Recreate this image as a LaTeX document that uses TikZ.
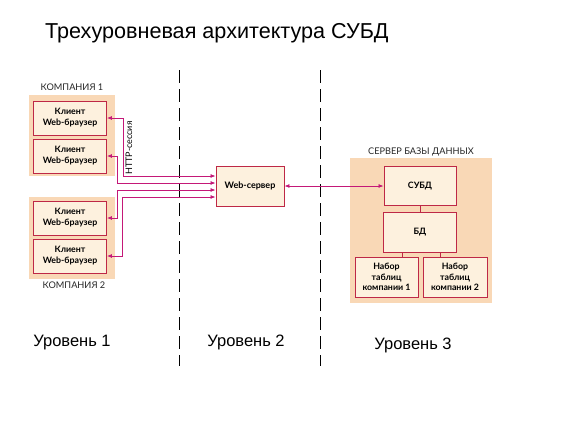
\documentclass[tikz,border=0pt]{standalone}
\usepackage{fontspec}
\setmainfont{Liberation Sans}
\newfontfamily\boxfont{Lato}
\usetikzlibrary{arrows.meta}
\definecolor{bgorange}{RGB}{249,216,182}
\definecolor{boxfill}{RGB}{253,241,222}
\definecolor{boxline}{RGB}{190,40,70}
\definecolor{conncol}{RGB}{196,24,120}
\tikzset{
  x=1pt,y=-1pt,
  bgpanel/.style={fill=bgorange,draw=none},
  cbox/.style={draw=boxline,line width=0.9pt,fill=boxfill,minimum width=73pt,minimum height=34pt,
     align=center,font=\boxfont\bfseries\fontsize{8.8}{11}\selectfont,inner sep=1pt},
  dbbox/.style={draw=boxline,line width=0.9pt,fill=boxfill,align=center,
     font=\boxfont\bfseries\fontsize{8.8}{10.5}\selectfont,inner sep=1pt},
  paneltitle/.style={font=\boxfont\fontsize{9.2}{11}\selectfont,text=black!85},
  conn/.style={draw=conncol,line width=0.8pt,{Latex[length=5pt,width=4pt]}-{Latex[length=5pt,width=4pt]}},
  link/.style={draw=boxline,line width=0.8pt},
  levelsep/.style={line width=0.9pt,dash pattern=on 13pt off 6pt},
  level/.style={font=\fontsize{16.5}{19}\selectfont}
}
\begin{document}
\begin{tikzpicture}
\useasboundingbox (0,0) rectangle (576,432);
\fill[white] (0,0) rectangle (576,432);
% title
\node[font=\fontsize{21.6}{25}\selectfont,anchor=base west,inner sep=0pt] (title) at (45,38) {Трехуровневая архитектура СУБД};
% separators
\coordinate (s1t) at (179,70); \coordinate (s1b) at (179,366);
\coordinate (s2t) at (320,70); \coordinate (s2b) at (320,366);
\draw[levelsep] (s1t) -- (s1b);
\draw[levelsep] (s2t) -- (s2b);
% company panels
\fill[bgpanel] (29,95) rectangle (115,176);
\fill[bgpanel] (29,197) rectangle (115,279);
\node[paneltitle] (comp1) at (72,87) {КОМПАНИЯ 1};
\node[paneltitle] (comp2) at (74,285) {КОМПАНИЯ 2};
\node[cbox] (c1a) at (70,118) {Клиент\\Web-браузер};
\node[cbox] (c1b) at (70,156) {Клиент\\Web-браузер};
\node[cbox] (c2a) at (70,218) {Клиент\\Web-браузер};
\node[cbox] (c2b) at (70,256) {Клиент\\Web-браузер};
% web server
\node[dbbox,minimum width=68pt,minimum height=40pt,font=\boxfont\fontsize{9}{11}\selectfont\bfseries] (ws) at (250,186) {Web-сервер};
% db server panel
\fill[bgpanel] (350,158) rectangle (492,303);
\node[paneltitle] (dbs) at (421,152) {СЕРВЕР БАЗЫ ДАННЫХ};
\node[dbbox,minimum width=72pt,minimum height=39pt] (subd) at (420,186) {СУБД};
\node[dbbox,minimum width=73pt,minimum height=40pt] (bd) at (420,232) {БД};
\node[dbbox,minimum width=63pt,minimum height=40pt] (t1) at (386.5,277) {Набор\\таблиц\\компании 1};
\node[dbbox,minimum width=64pt,minimum height=40pt] (t2) at (455,277) {Набор\\таблиц\\компании 2};
\draw[link] (subd.south) -- (bd.north);
\draw[link] (t1.north -| 402,0) -- (bd.south -| 402,0);
\draw[link] (t2.north -| 440,0) -- (bd.south -| 440,0);
% client connectors
\coordinate (jA) at (123,176);
\coordinate (jB) at (117,183);
\coordinate (jC) at (117,190);
\coordinate (jD) at (122,197);
\draw[conn] (c1a.east) -| (jA) -- (jA -| ws.west);
\draw[conn] (c1b.east) -| (jB) -- (jB -| ws.west);
\draw[conn] (c2a.east) -| (jC) -- (jC -| ws.west);
\draw[conn] (c2b.east) -| (jD) -- (jD -| ws.west);
\node[rotate=90,font=\boxfont\fontsize{9}{10}\selectfont,inner sep=1pt] (http) at (129,148) {HTTP-сессия};
% web server to DBMS
\draw[conn] (ws.east) -- (subd.west);
% levels
\node[level] (l1) at (72,343) {Уровень 1};
\node[level] (l2) at (246,342) {Уровень 2};
\node[level] (l3) at (413,345) {Уровень 3};
\end{tikzpicture}
\end{document}
